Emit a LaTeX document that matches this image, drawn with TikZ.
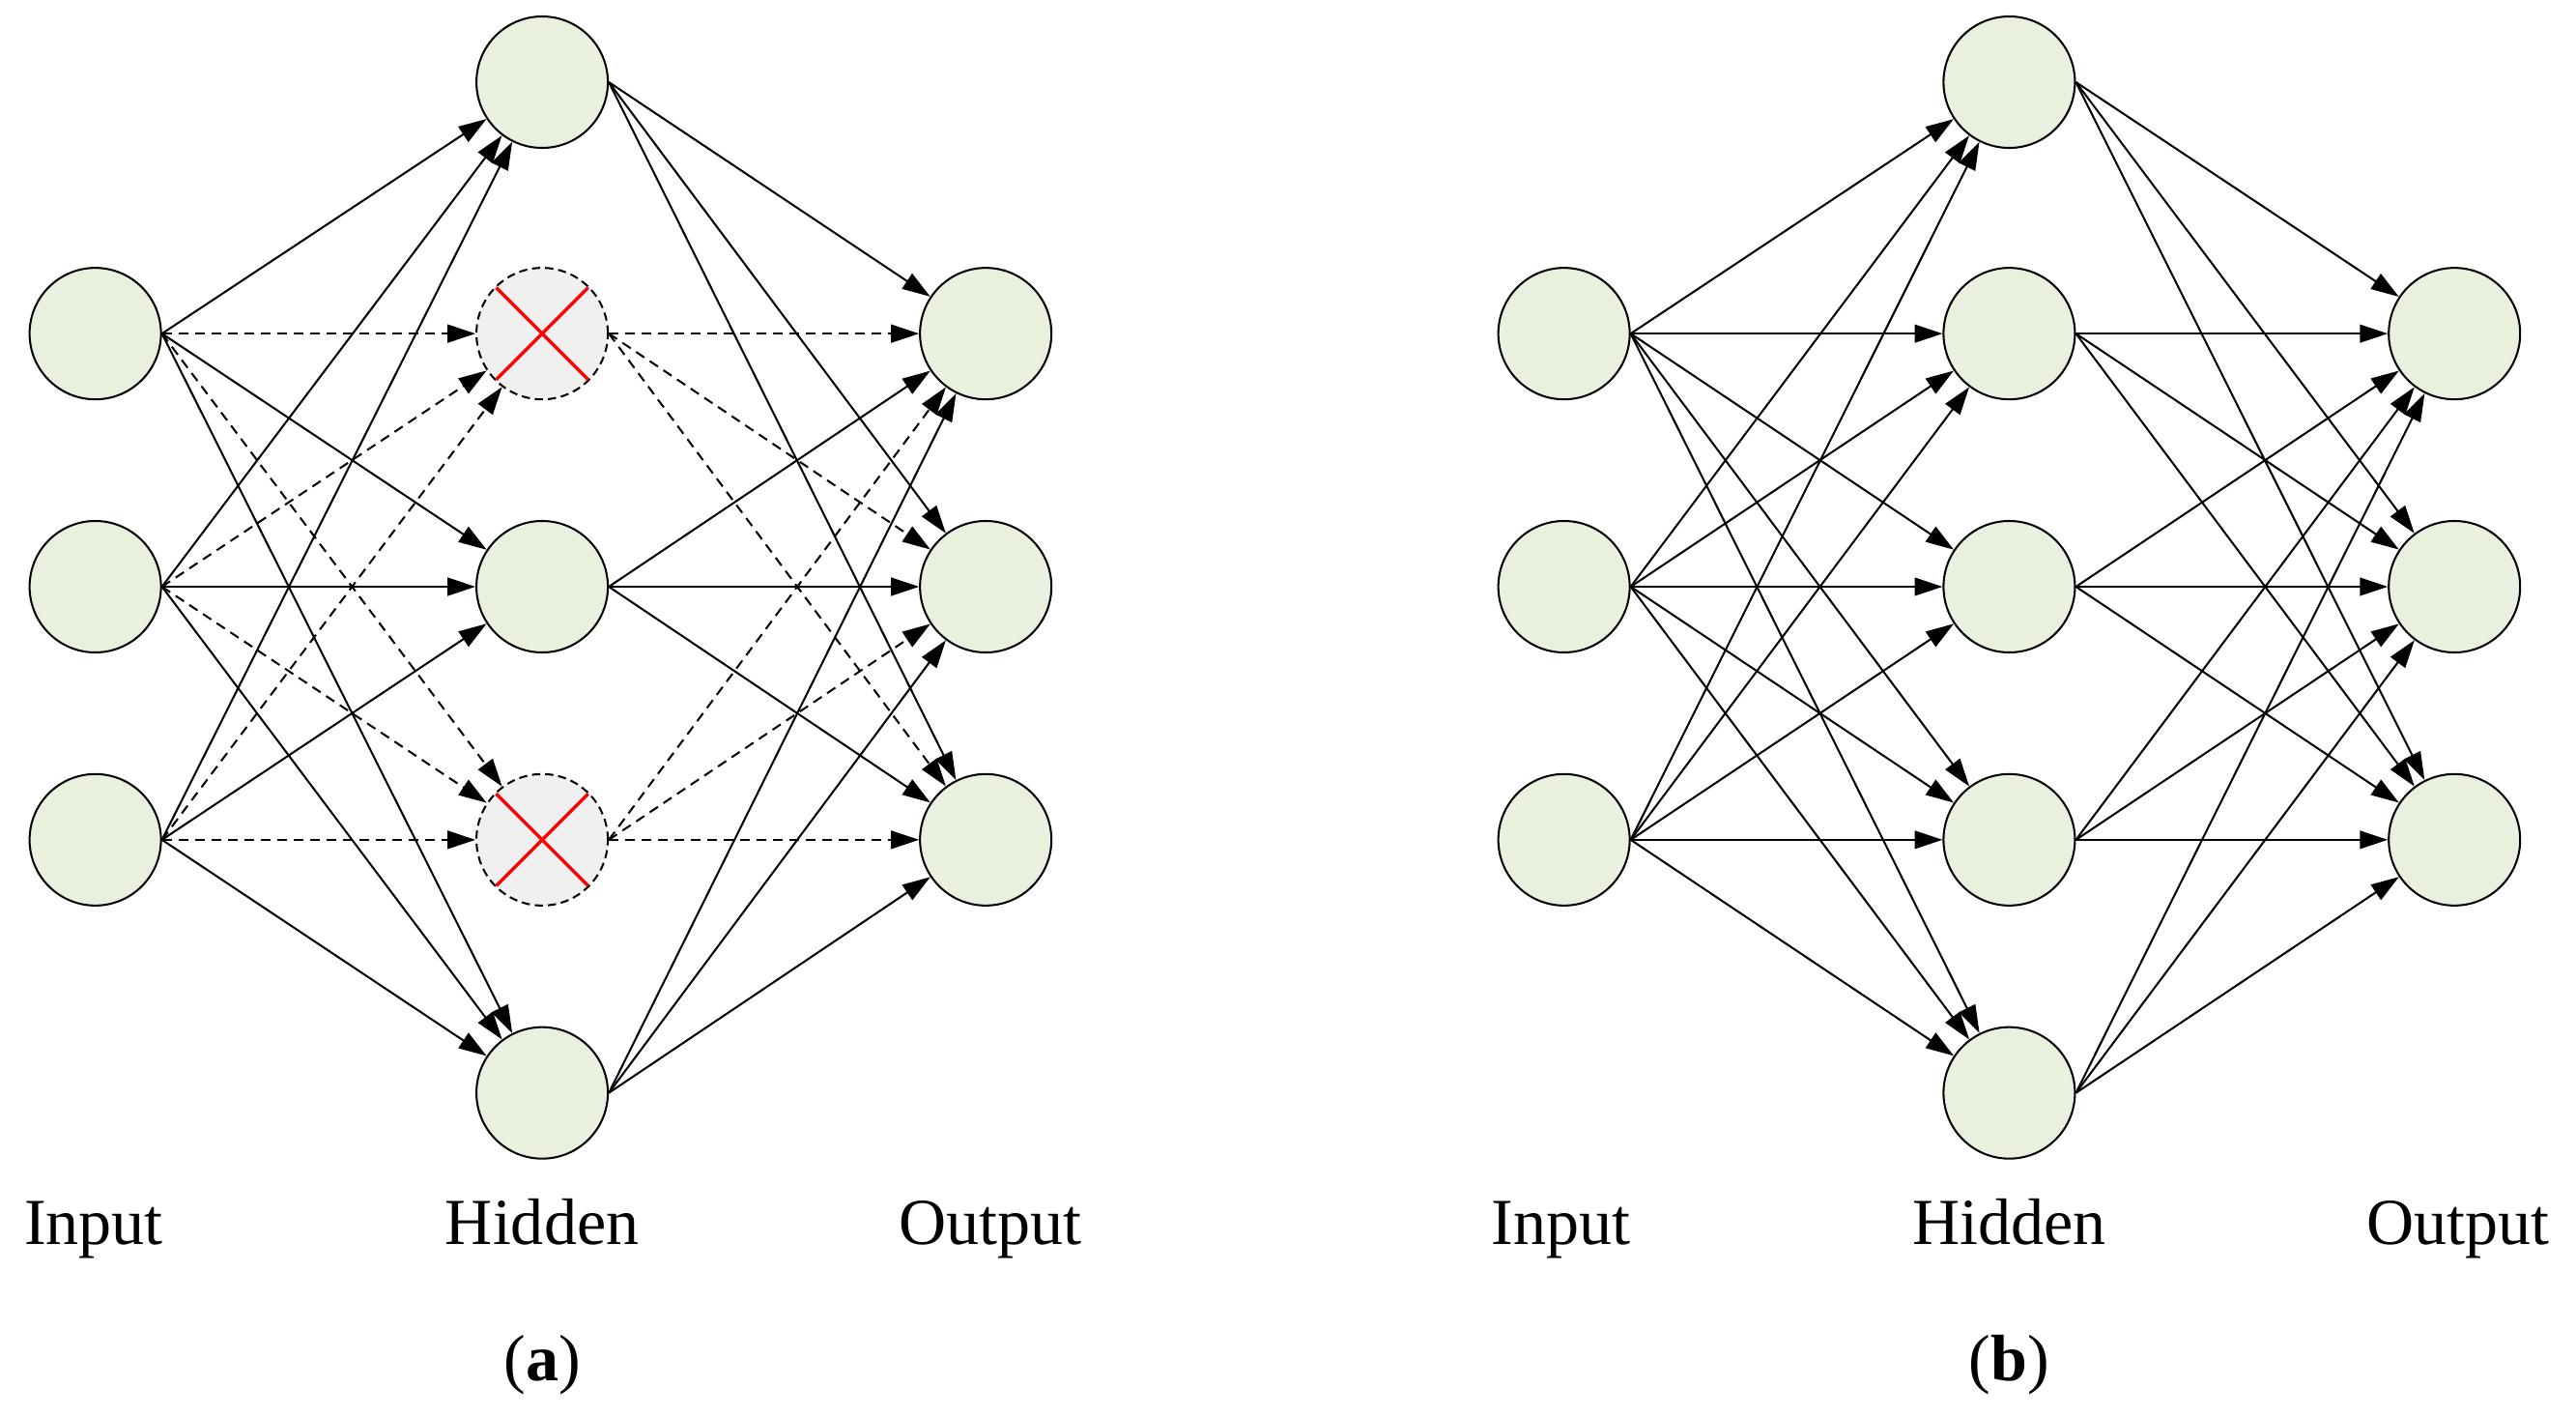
\documentclass[tikz,border=0pt]{standalone}
\usepackage{fontspec}
\setmainfont{Liberation Serif}
\usetikzlibrary{arrows.meta}
\begin{document}
\begin{tikzpicture}[x=1pt,y=-1pt,
  neu/.style={circle,draw,line width=1.2pt,minimum size=80pt,inner sep=0pt},
  drop/.style={circle,draw,dash pattern=on 5pt off 3pt,line width=1.2pt,fill=black!6,minimum size=80pt,inner sep=0pt},
  con/.style={line width=1.2pt,-{Triangle[length=17pt,width=11pt]}},
  dcon/.style={con,dash pattern=on 6pt off 4pt},
  lab/.style={font=\fontsize{40}{48}\selectfont,anchor=base},
  subcap/.style={font=\fontsize{40}{48}\selectfont,anchor=base}]
\definecolor{nf}{HTML}{EAF0DE}
\tikzset{neu/.append style={fill=nf}}
\useasboundingbox (0,0) rectangle (1568,862);
% panel a
\foreach \i/\y in {1/203,2/357,3/511}{\node[neu] (ai\i) at (58,\y) {};\node[neu] (ao\i) at (600,\y) {};}
\foreach \i/\y in {1/50,3/357,5/665}{\node[neu] (ah\i) at (330,\y) {};}
\foreach \i/\y in {2/203,4/511}{\node[drop] (ah\i) at (330,\y) {};
  \draw[red,line width=2pt] ([shift={(-28,-28)}]ah\i.center) -- ([shift={(28,28)}]ah\i.center) ([shift={(28,-28)}]ah\i.center) -- ([shift={(-28,28)}]ah\i.center);}
\foreach \i in {1,2,3}{
  \foreach \h in {1,3,5}{\draw[con] (ai\i.east) -- (ah\h); \draw[con] (ah\h.east) -- (ao\i);}
  \foreach \h in {2,4}{\draw[dcon] (ai\i.east) -- (ah\h); \draw[dcon] (ah\h.east) -- (ao\i);}}
% panel b
\foreach \i/\y in {1/203,2/357,3/511}{\node[neu] (bi\i) at (952,\y) {};\node[neu] (bo\i) at (1494,\y) {};}
\foreach \i/\y in {1/50,2/203,3/357,4/511,5/665}{\node[neu] (bh\i) at (1223,\y) {};}
\foreach \i in {1,2,3}{\foreach \h in {1,...,5}{\draw[con] (bi\i.east) -- (bh\h); \draw[con] (bh\h.east) -- (bo\i);}}
% labels
\node[lab] (la1) at (57,757) {Input};
\node[lab] (la2) at (330,757) {Hidden};
\node[lab] (la3) at (603,757) {Output};
\node[lab] (lb1) at (950,757) {Input};
\node[lab] (lb2) at (1223,757) {Hidden};
\node[lab] (lb3) at (1496,757) {Output};
\node[subcap] (ca) at (330,840) {(\textbf{a})};
\node[subcap] (cb) at (1223,840) {(\textbf{b})};
\end{tikzpicture}
\end{document}
